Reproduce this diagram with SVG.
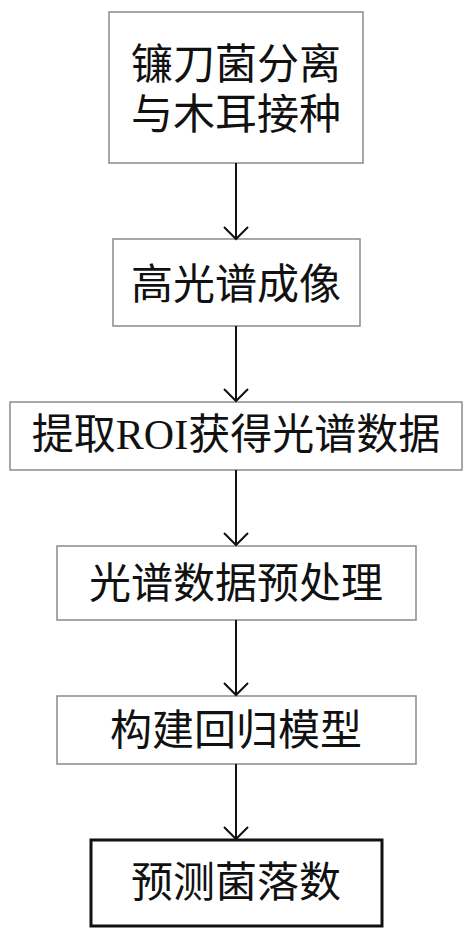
<svg xmlns="http://www.w3.org/2000/svg" width="474" height="938" viewBox="0 0 474 938">
<style>
.box{fill:#fff;stroke:#8a8a8a;stroke-width:1.5}
.boxb{fill:#fff;stroke:#111;stroke-width:3}
.t{font-family:"Liberation Sans","Noto Sans CJK SC",sans-serif;font-size:42px;fill:#111;text-anchor:middle}
.lat{font-family:"Liberation Serif",serif}
.c{fill:none;stroke:#111;stroke-width:2}
</style>
<rect width="474" height="938" fill="#fff"/>
<g id="n1"><rect class="box" x="109" y="12" width="254" height="151"/>
<text class="t"><tspan x="236" y="79">镰刀菌分离</tspan><tspan x="236" y="129">与木耳接种</tspan></text></g>
<g id="n2"><rect class="box" x="113" y="239" width="247" height="87"/>
<text class="t" x="236" y="299">高光谱成像</text></g>
<g id="n3"><rect class="box" x="10" y="402" width="452" height="68"/>
<text class="t" x="236" y="449">提取<tspan class="lat">ROI</tspan>获得光谱数据</text></g>
<g id="n4"><rect class="box" x="57" y="546" width="359" height="74"/>
<text class="t" x="236" y="598">光谱数据预处理</text></g>
<g id="n5"><rect class="box" x="57" y="696" width="359" height="68"/>
<text class="t" x="236" y="745">构建回归模型</text></g>
<g id="n6"><rect class="boxb" x="91" y="840" width="291" height="86"/>
<text class="t" x="236" y="897">预测菌落数</text></g>
<g id="connectors">
<path class="c" d="M236 163V238M224 227L236 239L248 227"/>
<path class="c" d="M236 326V401M224 389L236 401L248 389"/>
<path class="c" d="M236 470V545M224 533L236 545L248 533"/>
<path class="c" d="M236 620V695M224 683L236 695L248 683"/>
<path class="c" d="M236 764V839M224 827L236 839L248 827"/>
</g>
</svg>
